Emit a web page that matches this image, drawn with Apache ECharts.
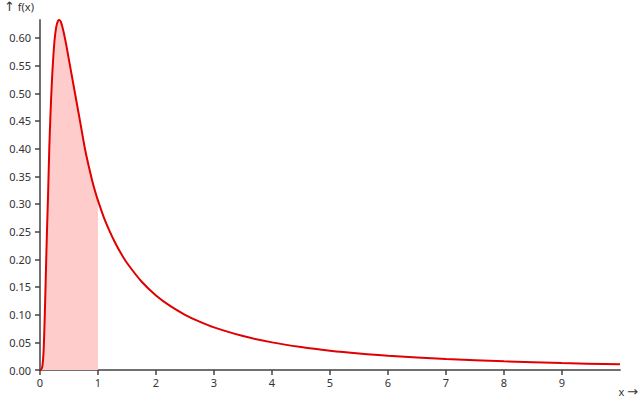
<!DOCTYPE html>
<html>
<head>
<meta charset="utf-8">
<script src="https://cdn.jsdelivr.net/npm/echarts@6/dist/echarts.min.js"></script>
<style>
html,body{margin:0;padding:0;background:#fff;}
#chart{width:640px;height:400px;}
</style>
</head>
<body>
<div id="chart"></div>
<script>
// x positions and density values
var xValues = [0, 0.02, 0.04, 0.06, 0.08, 0.10, 0.12, 0.14, 0.16, 0.18, 0.20, 0.22, 0.25, 0.28, 0.31, 0.333, 0.36, 0.40, 0.45, 0.50, 0.60, 0.70, 0.78, 0.85, 0.90, 0.95, 1.0, 1.1, 1.2, 1.3, 1.4, 1.5, 1.75, 2.0, 2.25, 2.5, 2.75, 3, 3.5, 4, 4.5, 5, 5.5, 6, 7, 8, 9, 10];
var fValues = [0, 0.001, 0.006, 0.03, 0.09, 0.17, 0.25, 0.32, 0.40, 0.46, 0.51, 0.55, 0.595, 0.62, 0.631, 0.6325, 0.629, 0.614, 0.589, 0.560, 0.502, 0.444, 0.397, 0.364, 0.342, 0.323, 0.306, 0.276, 0.251, 0.229, 0.210, 0.1934, 0.160, 0.1348, 0.1153, 0.0998, 0.0873, 0.0770, 0.0613, 0.0499, 0.0415, 0.0350, 0.0299, 0.0258, 0.0197, 0.0156, 0.0125, 0.0103];
var shadeUpTo = 1;
var xTicks = [0, 1, 2, 3, 4, 5, 6, 7, 8, 9];
var yTicks = [0, 0.05, 0.10, 0.15, 0.20, 0.25, 0.30, 0.35, 0.40, 0.45, 0.50, 0.55, 0.60];
var yName = 'f(x)';
var xName = 'x';

var curve = xValues.map(function (x, i) { return [x, fValues[i]]; });
var shaded = curve.filter(function (p) { return p[0] <= shadeUpTo; });

var font = 'Noto Sans';
var chart = echarts.init(document.getElementById('chart'), null, {renderer: 'svg'});
chart.setOption({
  animation: false,
  backgroundColor: '#ffffff',
  grid: {left: 40, right: 20, top: 20, bottom: 30, containLabel: false},
  xAxis: {
    type: 'value', min: 0, max: 10, interval: 1,
    axisLine: {show: true, onZero: false, lineStyle: {color: '#707070', width: 2}},
    axisTick: {show: true, length: 5, customValues: xTicks, lineStyle: {color: '#444', width: 1.5}},
    axisLabel: {customValues: xTicks, color: '#333', fontSize: 11, fontFamily: font, margin: 7},
    splitLine: {show: false}
  },
  yAxis: {
    type: 'value', min: 0, max: 'dataMax', interval: 0.05,
    axisLine: {show: true, lineStyle: {color: '#707070', width: 2}},
    axisTick: {show: true, length: 5, customValues: yTicks, lineStyle: {color: '#444', width: 1.5}},
    axisLabel: {show: true, showMaxLabel: false, color: '#333', fontSize: 11, fontFamily: font, margin: 9,
      formatter: function (v) { return v.toFixed(2); }},
    splitLine: {show: false}
  },
  graphic: [
    {type: 'text', left: 4, top: 0, style: {
      text: '{a|↑} ' + yName, fill: '#333', fontSize: 11, fontFamily: font,
      rich: {a: {fontFamily: 'DejaVu Sans', fontSize: 13, fill: '#333'}}}},
    {type: 'text', right: 2, bottom: 2, style: {
      text: xName + ' {a|→}', fill: '#333', fontSize: 11, fontFamily: font,
      rich: {a: {fontFamily: 'DejaVu Sans', fontSize: 13, fill: '#333'}}}}
  ],
  series: [
    {
      type: 'line', data: shaded, smooth: 0.3, showSymbol: false, z: 1,
      lineStyle: {width: 0, opacity: 0},
      areaStyle: {color: '#ffcccc', opacity: 1}
    },
    {
      type: 'line', data: curve, smooth: 0.3, showSymbol: false, z: 3,
      lineStyle: {color: '#e00000', width: 2}
    }
  ]
});
</script>
</body>
</html>
